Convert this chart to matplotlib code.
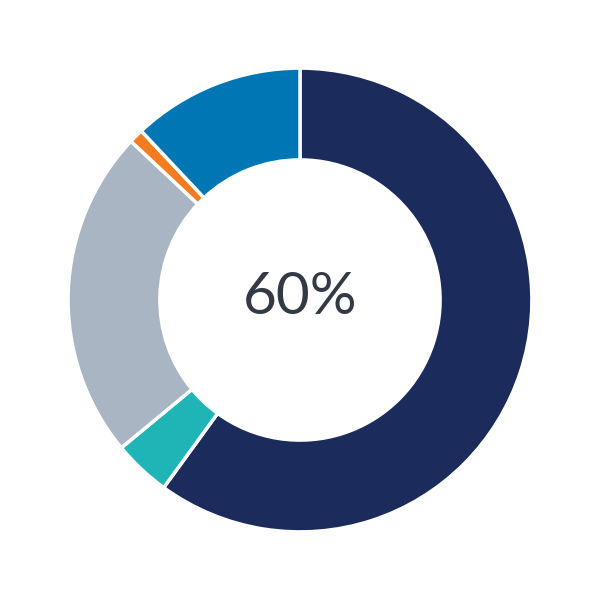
import matplotlib
matplotlib.use("Agg")
import matplotlib.pyplot as plt

categories = ["Navy", "Teal", "Gray", "Orange", "Blue"]
values = [60, 4, 23, 1, 12]
colors = ["#1b2b5b", "#1fb5b6", "#a9b5c3", "#f47c20", "#0076b4"]
center_label = "60%"

fig = plt.figure(figsize=(6, 6), dpi=100)
ax = fig.add_axes([0, 0, 1, 1])
ax.pie(values, colors=colors, startangle=90, counterclock=False,
       radius=0.773,
       wedgeprops=dict(width=0.306, edgecolor="white", linewidth=2.5))
ax.set_xlim(-1, 1)
ax.set_ylim(-1, 1)
ax.set_aspect("equal")
ax.axis("off")
ax.text(0, 0.01, center_label, ha="center", va="center", fontsize=42,
        color="#333a44", family="Lato", fontweight="normal")
fig.savefig("out.png", dpi=100, facecolor="white")
